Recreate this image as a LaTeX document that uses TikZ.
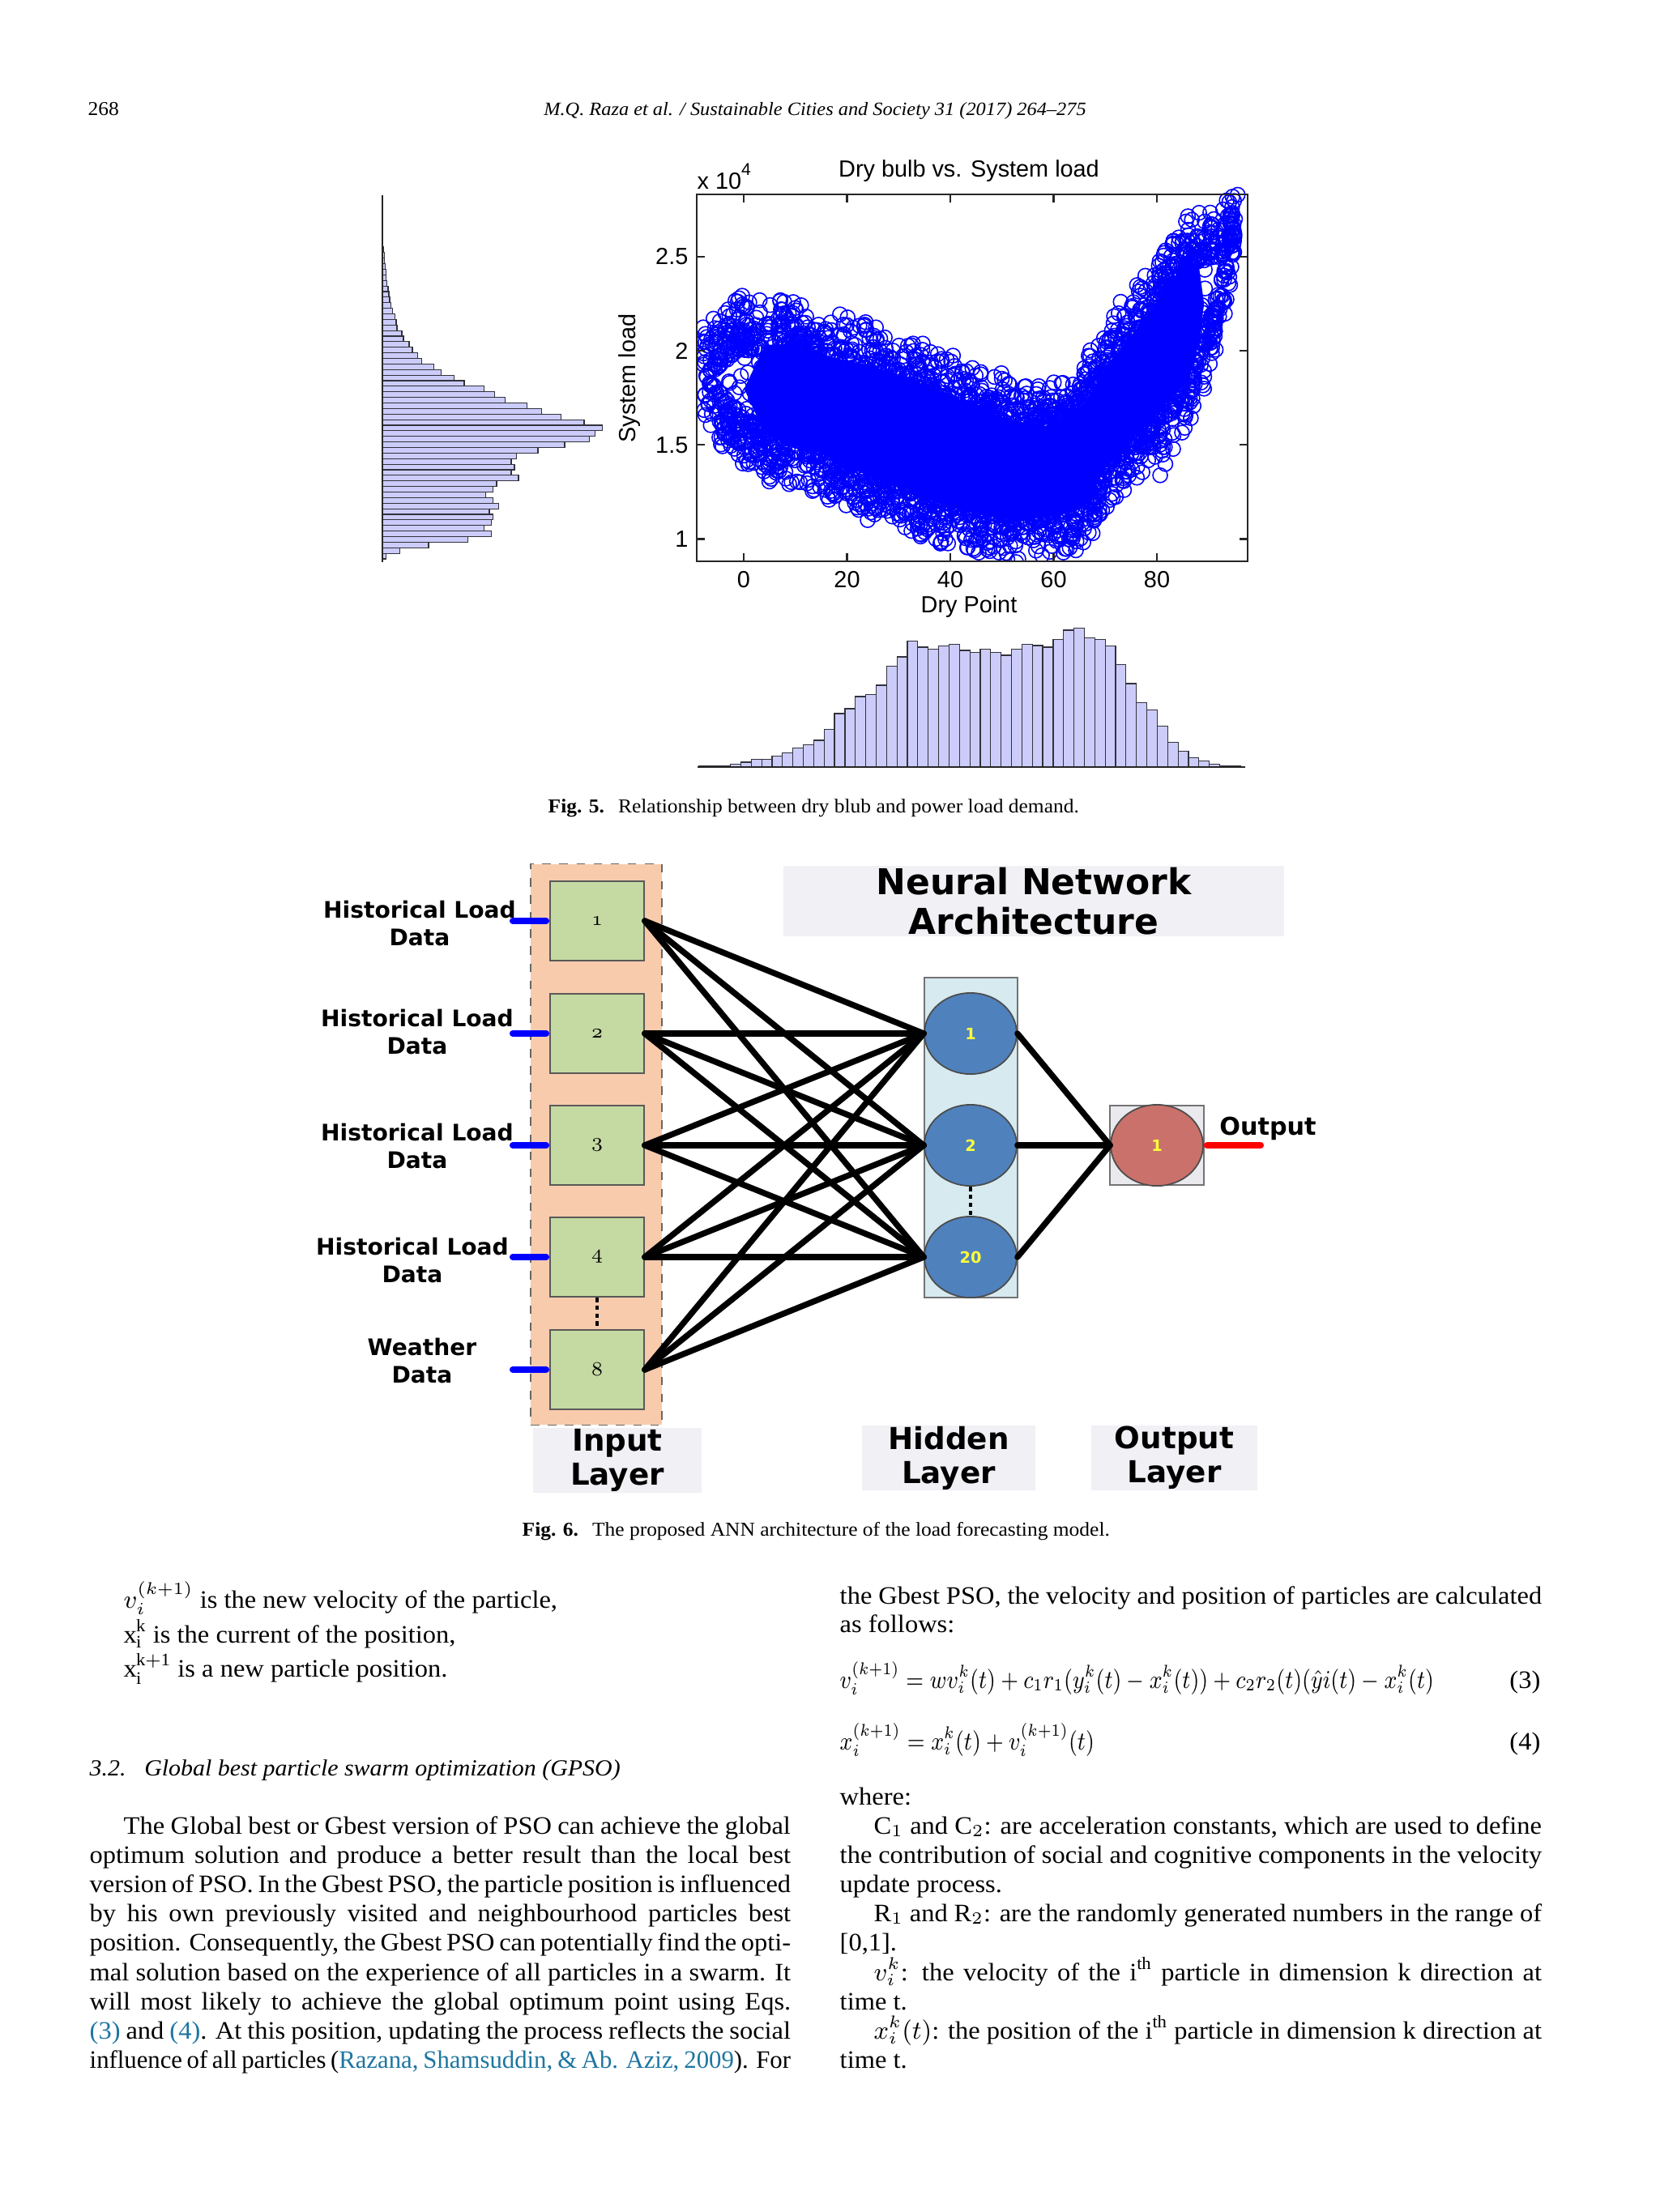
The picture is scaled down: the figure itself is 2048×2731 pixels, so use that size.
\documentclass[tikz,border=0pt]{standalone}
\usepackage{fontspec}
\setmainfont{Liberation Serif}[FakeStretch=1.05]
\newfontfamily\plotfont{Liberation Sans}
\newfontfamily\nnfont{DejaVu Sans}
\usetikzlibrary{shapes.geometric}
\definecolor{linkc}{RGB}{30,118,160}
\definecolor{inorange}{RGB}{248,203,173}
\definecolor{sqgreen}{RGB}{197,217,163}
\definecolor{hidbox}{RGB}{214,234,240}
\definecolor{hidcirc}{RGB}{79,129,189}
\definecolor{outcirc}{RGB}{201,113,106}
\definecolor{labbox}{RGB}{240,240,245}
\definecolor{outboxc}{RGB}{234,234,238}
\definecolor{barfill}{RGB}{204,204,250}
\definecolor{bardraw}{RGB}{50,50,60}
\definecolor{nnyellow}{RGB}{255,255,60}
\newcommand\JL[5]{\node[body] (#1) at (#2,#3) {\makebox[#4][s]{#5}};}
\tikzset{
 body/.style={anchor=base west, inner sep=0pt, font=\fontsize{8.8}{10.3}\selectfont},
 capt/.style={anchor=base west, inner sep=0pt, font=\fontsize{6.9}{8.5}\selectfont},
 plottxt/.style={inner sep=0pt, font=\plotfont\fontsize{8.2}{9.5}\selectfont},
 cloudc/.style={draw=blue, line width=0.45pt},
 histbar/.style={fill=barfill, draw=bardraw, line width=0.35pt},
 axisline/.style={draw=black!85, line width=0.6pt},
 inlab/.style={align=center, inner sep=0pt, font=\nnfont\bfseries\fontsize{8}{9.4}\selectfont},
 sq/.style={draw=black!65, line width=0.5pt, fill=sqgreen, minimum width=33pt, minimum height=27.9pt, inner sep=0pt, font=\fontsize{7}{7}\selectfont},
 hid/.style={ellipse, draw=black!70, line width=0.5pt, fill=hidcirc, minimum width=32.4pt, minimum height=28.5pt, inner sep=0pt, text=nnyellow, font=\nnfont\bfseries\fontsize{5.5}{6}\selectfont},
 conn/.style={line width=2.1pt, line cap=round},
 feed/.style={draw=blue, line width=2.3pt, line cap=round, shorten >=1.15pt},
 laybox/.style={fill=labbox, inner sep=0pt, align=center, minimum width=#1, minimum height=22.5pt, font=\nnfont\bfseries\fontsize{10.6}{12}\selectfont},
 dotline/.style={line width=1.3pt, dash pattern=on 1.6pt off 1.2pt},
}
\begin{document}
\begin{tikzpicture}[x=0.01cm,y=-0.01cm]
\fill[white] (0,0) rectangle (2048,2731);
\useasboundingbox (0,0) rectangle (2048,2731);

% ---------- header ----------
\node[capt] (pg) at (108,143) {268};
\node[anchor=base,inner sep=0pt,font=\fontsize{6.6}{8}\selectfont\itshape] (hdr) at (1006,143) {M.Q. Raza et al. / Sustainable Cities and Society 31 (2017) 264--275};

% ---------- scatter cloud ----------
\begin{scope}[shift={(9.18cm,-8.9775cm)}, x=0.06375cm, y=2.323cm]
\clip (-9.1,0.8814) rectangle (97.6,3.0);
\fill[blue] (0,1.80) -- (4,2.03) -- (9,2.04) -- (14,1.98) -- (20,1.95) -- (26,1.91) -- (31,1.86) -- (35,1.82) -- (40,1.76) -- (47,1.68) -- (52,1.63) -- (59,1.60) -- (63,1.62) -- (66,1.73) -- (68,1.81) -- (70,1.92) -- (74,2.05) -- (79,2.23) -- (83,2.38) -- (86,2.49) -- (88,2.45) -- (89,2.25) -- (88,2.05) -- (86,1.84) -- (83,1.76) -- (79,1.64) -- (74,1.50) -- (70,1.38) -- (68,1.28) -- (66,1.18) -- (63,1.14) -- (59,1.12) -- (52,1.11) -- (47,1.12) -- (40,1.17) -- (35,1.22) -- (31,1.28) -- (26,1.32) -- (20,1.38) -- (14,1.47) -- (9,1.50) -- (4,1.56) -- cycle;
\pgfmathsetseed{12}
\foreach \ta/\ua/\la/\tb/\ub/\lb/\nn in {
-8/2.12/1.62/-4/2.20/1.49/16,
-4/2.20/1.49/-1/2.28/1.42/18,
-1/2.28/1.42/3/2.26/1.32/22,
3/2.26/1.32/9/2.26/1.28/24,
9/2.26/1.28/14/2.20/1.25/22,
14/2.20/1.25/20/2.17/1.16/24,
20/2.17/1.16/26/2.13/1.10/24,
26/2.13/1.10/31/2.08/1.06/22,
31/2.08/1.06/35/2.04/1.00/18,
35/2.04/1.00/40/1.98/0.95/22,
40/1.98/0.95/47/1.90/0.90/28,
47/1.90/0.90/52/1.85/0.89/22,
52/1.85/0.89/59/1.82/0.90/28,
59/1.82/0.90/63/1.84/0.92/18,
63/1.84/0.92/66/1.95/0.96/16,
66/1.95/0.96/68/2.03/1.06/12,
68/2.03/1.06/70/2.14/1.16/12,
70/2.14/1.16/74/2.27/1.28/18,
74/2.27/1.28/79/2.45/1.42/22,
79/2.45/1.42/83/2.60/1.54/22,
83/2.60/1.54/86/2.71/1.62/18,
86/2.71/1.62/90/2.76/1.90/20,
90/2.76/1.90/93/2.78/2.17/16,
93/2.78/2.17/95/2.82/2.55/12}{
  \foreach \k in {1,...,\nn}{
    \pgfmathsetmacro\rA{rnd}
    \pgfmathsetmacro\rB{rnd}
    \pgfmathsetmacro\cT{\ta+\rA*(\tb-\ta)}
    \pgfmathsetmacro\cU{\ua+\rA*(\ub-\ua)}
    \pgfmathsetmacro\cL{\la+\rA*(\lb-\la)}
    \pgfmathsetmacro\cV{\cL-0.02+\rB*(\cU-\cL+0.04)}
    \draw[cloudc] (\cT,\cV) circle[radius=2.56pt];
  }
  \pgfmathtruncatemacro\mm{4*\nn}
  \foreach \k in {1,...,\mm}{
    \pgfmathsetmacro\rA{rnd}
    \pgfmathsetmacro\rB{rnd}
    \pgfmathsetmacro\rC{sqrt(rnd)}
    \pgfmathsetmacro\cT{\ta+\rA*(\tb-\ta)}
    \pgfmathsetmacro\cU{\ua+\rA*(\ub-\ua)}
    \pgfmathsetmacro\cL{\la+\rA*(\lb-\la)}
    \pgfmathsetmacro\cV{(\rB<0.5) ? (\cU+0.03-0.3*\rC) : (\cL-0.03+0.3*\rC)}
    \draw[cloudc] (\cT,\cV) circle[radius=2.56pt];
  }
}
\foreach \cT/\cV in {80.5/1.34, 81.5/1.40, 81/1.45, 83/1.48, -7.5/1.66, -7/1.72, -1/2.28, 3/2.27, 7/2.27, 9.5/2.26, 89/1.80, 91/2.20, 93/2.42, 95.5/2.83, 94.5/2.82}{
  \draw[cloudc] (\cT,\cV) circle[radius=2.56pt];
}
\end{scope}

% ---------- scatter axes ----------
\draw[axisline] (860,240) rectangle (1540,693);
\foreach \xx in {918,1045.5,1173,1300.5,1428}{\draw[axisline] (\xx,693) -- ++(0,-10); \draw[axisline] (\xx,240) -- ++(0,10);}
\foreach \yy in {317,433.2,549.3,665.5}{\draw[axisline] (860,\yy) -- ++(10,0); \draw[axisline] (1540,\yy) -- ++(-10,0);}
\foreach \tv/\xx in {0/918, 20/1045.5, 40/1173, 60/1300.5, 80/1428}{\node[plottxt] (xt\tv) at (\xx,716) {\tv};}
\foreach \lab/\yy [count=\i] in {2.5/317, 2/433.2, 1.5/549.3, 1/665.5}{\node[plottxt, anchor=east] (yt\i) at (850,\yy) {\lab};}
\node[plottxt] (ttl) at (1196,211) {Dry bulb vs. System load};
\node[plottxt, anchor=west] (expo) at (860,218) {x 10\raisebox{1.1ex}{\fontsize{6}{7}\selectfont 4}};
\node[plottxt] (xlab) at (1196,749) {Dry Point};
\node[plottxt, rotate=90] (ylab) at (777,467) {System load};

% ---------- left histogram ----------
\foreach \w [count=\i from 0] in {1.8,2.2,2.7,3.6,4.5,4.5,5.4,7.1,8,8.9,10.7,12.5,15.2,17,17.9,24.1,25.9,33,37.1,43.8,48.2,63.8,72.8,88.4,100.9,125.4,138.4,151.8,178.6,196.4,220.5,249.1,271.4,262.5,255.8,225,192,165.2,158.9,162.9,158.9,167.9,141.1,136.6,127.7,136.6,143.3,132.1,136.6,134.4,125.4,134.4,105.4,57.1,21.4,4.5}{
  \filldraw[histbar] (472,{305+\i*6.875}) rectangle ++(\w,6.875);
}
\draw[axisline] (472,241) -- (472,694);

% ---------- bottom histogram ----------
\foreach \h [count=\i from 0] in {1.7,1.7,1.7,3.3,6,9.3,9.3,13.2,17.2,23.2,27.2,33.1,46.4,65.9,71.9,87.1,89.4,101,124.2,136.1,155.6,148,145.7,149.7,151.3,144,141.7,145.7,141.7,138.1,145.7,151.7,150,148,157.3,168.9,171.2,159.6,157.3,149.7,126.5,103,79.8,70.2,50.7,30.5,19.2,11.6,7.6,3.6,1.7,1.3}{
  \filldraw[histbar] ({863+\i*12.85},947) rectangle ++(12.85,-\h);
}
\draw[axisline] (861,947) -- (1537,947);

\node[capt] (cap5) at (676,1003) {\textbf{Fig. 5.}\hspace{0.7em}Relationship between dry blub and power load demand.};

% ---------- neural network ----------
\node[draw=black!60, dashed, line width=0.4pt, fill=inorange, minimum width=46.1pt, minimum height=196.9pt, inner sep=0pt] (inbox) at (736,1413) {};
\foreach \nm/\yy/\lab in {s1/1137/1, s2/1276/2, s3/1414/3, s4/1552/4, s5/1691/8}{
  \node[sq] (\nm) at (737,\yy) {$\mathnormal{\lab}$};
  \coordinate (f\nm) at (633,\yy);
  \draw[feed] (f\nm) -- (\nm.west);
}
\node[inlab] (l1) at (518,1140) {Historical Load\\Data};
\node[inlab] (l2) at (515,1274) {Historical Load\\Data};
\node[inlab] (l3) at (515,1415) {Historical Load\\Data};
\node[inlab] (l4) at (509,1556) {Historical Load\\Data};
\node[inlab] (l5) at (521,1680) {Weather\\Data};

\node[fill=labbox, inner sep=0pt, minimum width=175.8pt, minimum height=24.75pt, align=center, font=\nnfont\bfseries\fontsize{12.5}{14}\selectfont] (title) at (1276,1112.5) {Neural Network\\Architecture};

\node[draw=black!55, line width=0.5pt, fill=hidbox, minimum width=32.7pt, minimum height=112.4pt, inner sep=0pt] (hbox) at (1198.5,1404.5) {};
\node[hid] (h1) at (1198,1276) {1};
\node[hid] (h2) at (1198,1414) {2};
\node[hid] (h3) at (1198,1552) {20};
\node[draw=black!55, line width=0.5pt, fill=outboxc, minimum width=33pt, minimum height=27.9pt, inner sep=0pt] (obox) at (1428,1414) {};
\node[hid, fill=outcirc] (o1) at (1428,1414) {1};

\foreach \a in {s1,s2,s3,s4,s5}{\foreach \b in {h1,h2,h3}{\draw[conn] (\a.east) -- (\b.west);}}
\foreach \b in {h1,h2,h3}{\draw[conn] (\b.east) -- (o1.west);}
\draw[dotline] (s4.south) -- (s5.north);
\draw[dotline] (h2.south) -- (h3.north);

\coordinate (rend) at (1556,1414);
\draw[draw=red, line width=2.3pt, line cap=round, shorten <=1.15pt] (o1.east) -- (rend);
\node[inner sep=0pt, font=\nnfont\bfseries\fontsize{8.6}{9}\selectfont] (outl) at (1565,1393) {Output};

\node[laybox=59.2pt] (lin) at (762,1803) {Input\\Layer};
\node[laybox=60.9pt] (lhid) at (1171,1800) {Hidden\\Layer};
\node[laybox=58.3pt] (lout) at (1449.5,1800) {Output\\Layer};

\node[capt] (cap6) at (644,1896) {\textbf{Fig. 6.}\hspace{0.7em}The proposed ANN architecture of the load forecasting model.};

% ---------- left column text ----------
\node[body] (v1) at (152,1985) {$v_i^{(k+1)}$ is the new velocity of the particle,};
\node[body] (x1) at (152,2028) {$\mathrm{x}_{\mathrm{i}}^{\mathrm{k}}$ is the current of the position,};
\node[body] (x2) at (152,2070) {$\mathrm{x}_{\mathrm{i}}^{\mathrm{k+1}}$ is a new particle position.};
\node[body, font=\fontsize{8.1}{10}\selectfont\itshape] (sec) at (110,2192) {3.2.\hspace{0.8em}Global best particle swarm optimization (GPSO)};

\JL{p1}{152}{2264}{234.1pt}{The Global best or Gbest version of PSO can achieve the global}
\JL{p2}{110}{2300}{246.1pt}{optimum solution and produce a better result than the local best}
\JL{p3}{110}{2336}{246.1pt}{version of PSO. In the Gbest PSO, the particle position is influenced}
\JL{p4}{110}{2372}{246.1pt}{by his own previously visited and neighbourhood particles best}
\JL{p5}{110}{2408}{246.1pt}{position. Consequently, the Gbest PSO can potentially find the opti-}
\JL{p6}{110}{2445}{246.1pt}{mal solution based on the experience of all particles in a swarm. It}
\JL{p7}{110}{2481}{246.1pt}{will most likely to achieve the global optimum point using Eqs.}
\JL{p8}{110}{2517}{246.1pt}{\textcolor{linkc}{(3)} and \textcolor{linkc}{(4)}. At this position, updating the process reflects the social}
\node[body] (p9) at (110,2553) {\scalebox{0.9465}[1]{\makebox[260pt][s]{influence of all particles (\textcolor{linkc}{Razana, Shamsuddin, \& Ab. Aziz, 2009}). For}}};

% ---------- right column text ----------
\JL{r1}{1036}{1980}{246.4pt}{the Gbest PSO, the velocity and position of particles are calculated}
\node[body] (r2) at (1036,2015) {as follows:};
\node[body] (eq3) at (1036,2084) {\scalebox{0.86}[1]{$v_i^{(k+1)}=wv_i^k(t)+c_1r_1(y_i^k(t)-x_i^k(t))+c_2r_2(t)(\hat{y}i(t)-x_i^k(t)$}};
\node[body, anchor=base east] (n3) at (1902,2084) {(3)};
\node[body] (eq4) at (1036,2160) {\scalebox{0.86}[1]{$x_i^{(k+1)}=x_i^k(t)+v_i^{(k+1)}(t)$}};
\node[body, anchor=base east] (n4) at (1902,2160) {(4)};
\node[body] (wh) at (1036,2228) {where:};
\JL{c1}{1078}{2264}{234.4pt}{C$_1$ and C$_2$: are acceleration constants, which are used to define}
\JL{c2}{1036}{2300}{246.4pt}{the contribution of social and cognitive components in the velocity}
\node[body] (c3) at (1036,2336) {update process.};
\JL{rr1}{1078}{2372}{234.4pt}{R$_1$ and R$_2$: are the randomly generated numbers in the range of}
\node[body] (rr2) at (1036,2408) {[0,1].};
\JL{vk}{1078}{2445}{234.4pt}{$v_i^k$: the velocity of the i$^{\mathrm{th}}$ particle in dimension k direction at}
\node[body] (vk2) at (1036,2481) {time t.};
\JL{xk}{1078}{2517}{234.4pt}{$x_i^k(t)$: the position of the i$^{\mathrm{th}}$ particle in dimension k direction at}
\node[body] (xk2) at (1036,2553) {time t.};
\end{tikzpicture}
\end{document}
